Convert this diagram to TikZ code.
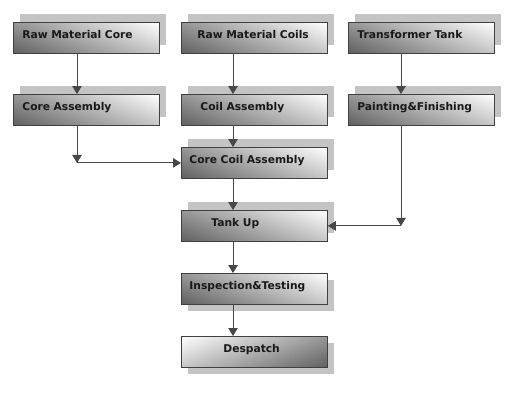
\documentclass[tikz,border=0pt]{standalone}
\usepackage{fontspec}
\setmainfont{DejaVu Sans}
\usetikzlibrary{arrows.meta,shadows}
\begin{document}
\begin{tikzpicture}[x=1pt,y=-1pt,
  box/.style={draw=black!75, line width=0.8pt, minimum width=146pt, minimum height=31pt,
    inner sep=0pt, text width=146pt, align=left, text height=7.3pt, text depth=5.7pt,
    anchor=north west, font=\fontsize{10.7}{12}\selectfont\bfseries, text=black!90,
    path picture={\shade[top color=white, bottom color=black, fill opacity=0.22]
      (path picture bounding box.south west) rectangle (path picture bounding box.north east);}},
  darkleft/.style={left color=black!52, right color=white},
  darkright/.style={left color=white, right color=black!52},
  upshadow/.style={general shadow={fill=black!23, shadow xshift=7pt, shadow yshift=8pt}},
  downshadow/.style={general shadow={fill=black!23, shadow xshift=7pt, shadow yshift=-7pt}},
  arr/.style={draw=black!72, line width=0.9pt, -{Triangle[width=9.5pt,length=8pt]}}
]
\useasboundingbox (0,0) rectangle (524,400);
\fill[white] (0,0) rectangle (524,400);

\node[box,darkleft,upshadow] (rmc) at (13,22) {\hspace*{9pt}Raw Material Core};
\node[box,darkleft,upshadow] (rmcoil) at (181,22) {\hspace*{16pt}Raw Material Coils};
\node[box,darkleft,upshadow] (tt) at (348,22) {\hspace*{9pt}Transformer Tank};
\node[box,darkleft,upshadow] (ca) at (13,94) {\hspace*{9pt}Core Assembly};
\node[box,darkleft,upshadow] (coa) at (181,94) {\hspace*{19pt}Coil Assembly};
\node[box,darkleft,upshadow] (pf) at (348,94) {\hspace*{9pt}Painting\&Finishing};
\node[box,darkleft,upshadow] (cca) at (181,147) {\hspace*{8pt}Core Coil Assembly};
\node[box,darkleft,upshadow] (tank) at (181,210) {\hspace*{30pt}Tank Up};
\node[box,darkleft,downshadow] (insp) at (181,273) {\hspace*{8pt}Inspection\&Testing};
\node[box,darkright,downshadow] (desp) at (181,336) {\hspace*{42pt}Despatch};

\coordinate (c1) at (77,0);
\coordinate (c2) at (233,0);
\coordinate (c3) at (401,0);
\coordinate (k1) at (c1 |- cca.west);
\coordinate (k2) at (c3 |- tank.east);

\draw[arr] (rmc.south -| c1) -- (ca.north -| c1);
\draw[arr] (rmcoil.south -| c2) -- (coa.north -| c2);
\draw[arr] (tt.south -| c3) -- (pf.north -| c3);
\draw[arr] (coa.south -| c2) -- (cca.north -| c2);
\draw[arr] (cca.south -| c2) -- (tank.north -| c2);
\draw[arr] (tank.south -| c2) -- (insp.north -| c2);
\draw[arr] (insp.south -| c2) -- (desp.north -| c2);
\draw[arr] (ca.south -| c1) -- (k1);
\draw[arr] (k1) -- (cca.west);
\draw[arr] (pf.south -| c3) -- (k2);
\draw[arr] (k2) -- (tank.east);
\end{tikzpicture}
\end{document}
